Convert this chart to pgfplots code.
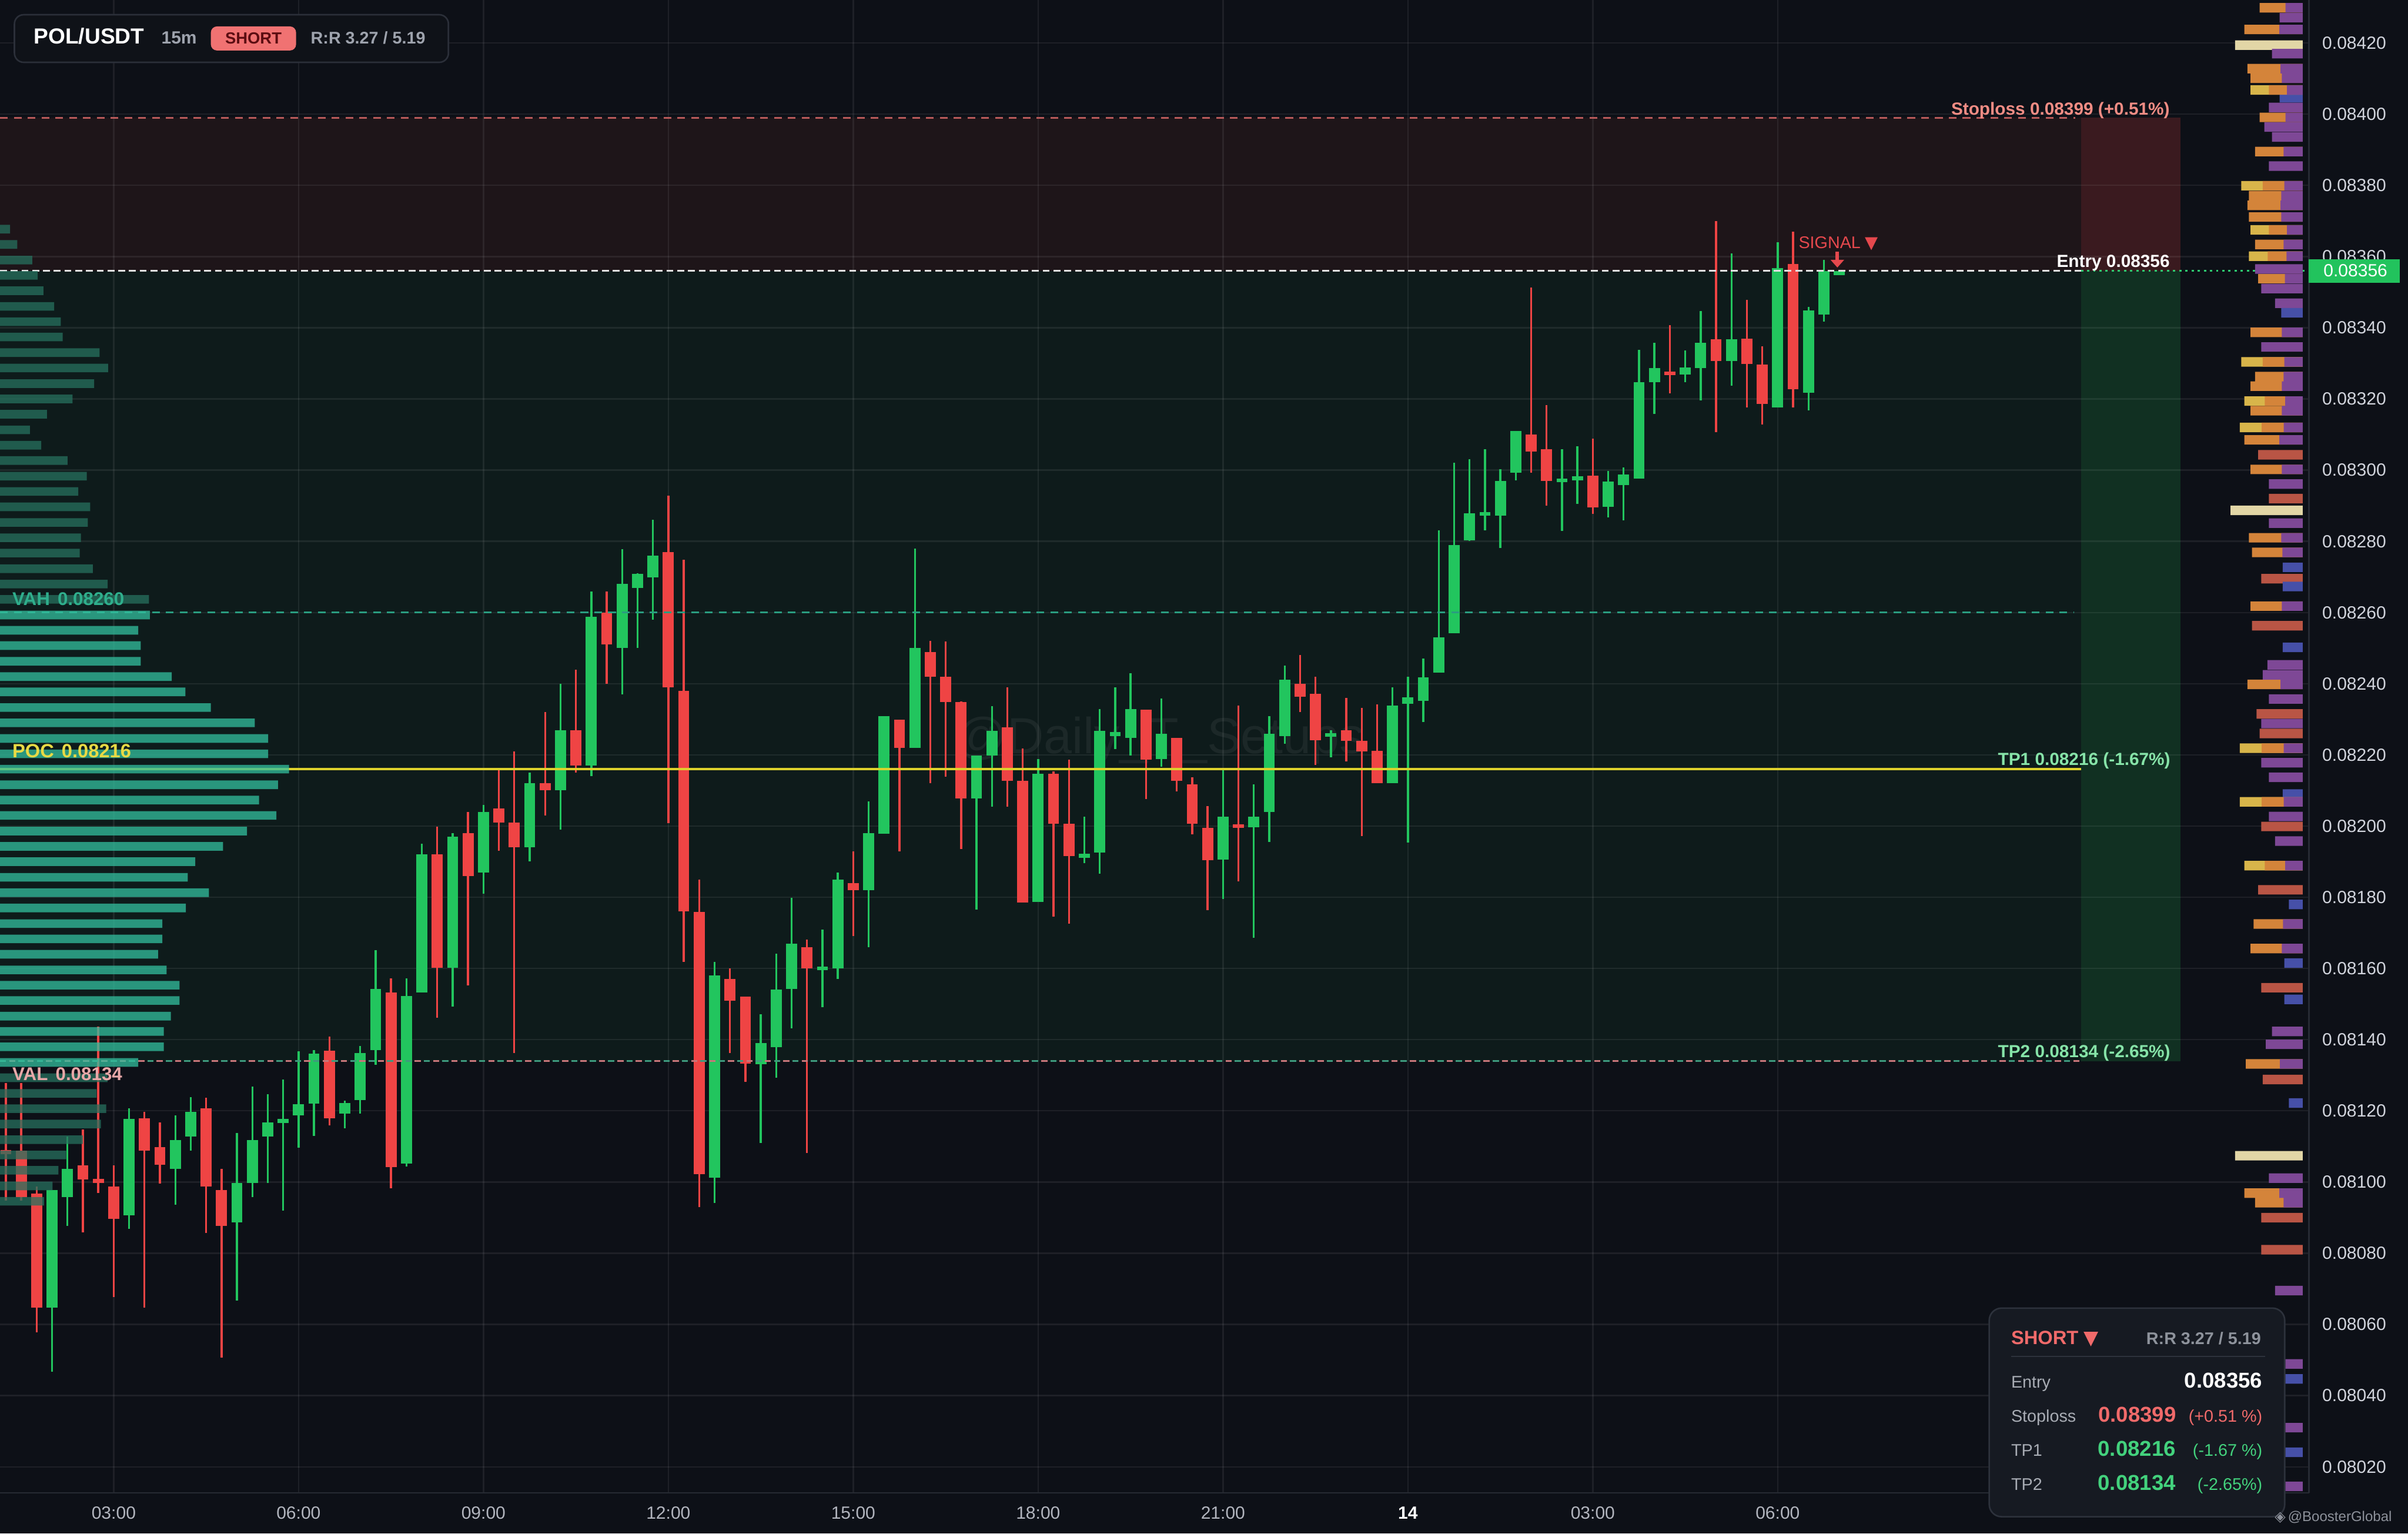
\documentclass[border=0pt]{standalone}
\usepackage{fontspec}
\setmainfont{Liberation Sans}
\newfontfamily\dejavu{DejaVu Sans}
\usepackage{pgfplots}
\pgfplotsset{compat=1.18}
\usepackage{pgfplotstable}
\usetikzlibrary{arrows.meta}

\definecolor{bg}{HTML}{0D1017}
\definecolor{zredD}{HTML}{1E1519}
\definecolor{zredB}{HTML}{3A1A1F}
\definecolor{zgrnD}{HTML}{0E1B1B}
\definecolor{zgrnB}{HTML}{113022}
\definecolor{cgreen}{HTML}{22C55E}
\definecolor{cred}{HTML}{EF4444}
\definecolor{tickx}{HTML}{B2B5BE}
\definecolor{ticky}{HTML}{D1D4DC}
\definecolor{slc}{HTML}{B85A5A}
\definecolor{sllab}{HTML}{F08C84}
\definecolor{entryline}{HTML}{E2E2E2}
\definecolor{entrydot}{HTML}{2ECC71}
\definecolor{vahc}{HTML}{2A9D80}
\definecolor{vahlab}{HTML}{2FAE8C}
\definecolor{pocc}{HTML}{DDD12C}
\definecolor{poclab}{HTML}{E8DA45}
\definecolor{valred}{HTML}{C8767A}
\definecolor{valgrn}{HTML}{3E9A7E}
\definecolor{vallab}{HTML}{E8A8A8}
\definecolor{tplab}{HTML}{86E3A8}
\definecolor{sigred}{HTML}{E5484D}
\definecolor{hdrbg}{HTML}{0F1218}
\definecolor{hdrborder}{HTML}{2B2F39}
\definecolor{badge}{HTML}{F07272}
\definecolor{badgetext}{HTML}{5C0D12}
\definecolor{graytxt}{HTML}{9EA3AD}
\definecolor{panelbg}{HTML}{161A22}
\definecolor{panelborder}{HTML}{2D323C}
\definecolor{panred}{HTML}{F06A6A}
\definecolor{pangreen}{HTML}{43D27D}
\definecolor{pangray}{HTML}{A8ACB4}
\definecolor{rrgray}{HTML}{8E939C}
\definecolor{pricegreen}{HTML}{22C35D}
\definecolor{profB}{HTML}{33C09F}
\definecolor{profD}{HTML}{27715E}
\definecolor{rporange}{HTML}{D4843A}
\definecolor{rpyellow}{HTML}{D8B54A}
\definecolor{rppale}{HTML}{E2D6A6}
\definecolor{rpred}{HTML}{B95545}
\definecolor{rppurple}{HTML}{7E4896}
\definecolor{rpblue}{HTML}{4650A8}
\definecolor{axisline}{HTML}{262A33}
\definecolor{wmgray}{HTML}{8D919A}

% candles: i open high low close (price x 1e5)
\pgfplotstableread{
i o h l c
0 8108.6 8127.9 8094.8 8108.2
1 8108.8 8127.9 8094.8 8095.9
2 8096.8 8098.8 8057.8 8064.8
5 8104.8 8114.8 8085.8 8100.8
6 8100.8 8143.8 8096.9 8100.0
7 8098.8 8104.8 8067.8 8089.8
9 8117.9 8119.8 8064.8 8108.8
10 8109.8 8116.9 8099.8 8104.8
13 8120.8 8123.8 8085.8 8098.8
14 8097.8 8103.8 8050.7 8087.8
21 8137.0 8141.0 8116.0 8118.0
25 8153.3 8157.3 8098.4 8104.3
28 8192.1 8200.1 8146.3 8160.3
30 8198.1 8204.1 8155.3 8186.1
32 8205.1 8216.1 8193.1 8201.1
33 8201.1 8221.1 8136.3 8194.1
35 8212.1 8232.1 8203.1 8210.1
37 8227.1 8244.1 8215.1 8217.1
39 8260.0 8266.0 8240.1 8251.0
43 8277.0 8293.0 8201.0 8239.0
44 8238.0 8275.0 8162.0 8176.0
45 8176.0 8185.0 8093.0 8102.3
47 8157.1 8160.1 8136.3 8151.1
48 8152.1 8152.1 8128.3 8133.3
52 8166.1 8168.1 8108.2 8160.1
55 8184.0 8193.0 8169.1 8182.0
58 8230.0 8230.0 8193.0 8222.0
60 8249.0 8252.0 8212.0 8242.0
61 8242.0 8252.0 8214.0 8235.0
62 8235.0 8235.0 8193.6 8207.8
65 8227.9 8239.0 8205.6 8212.8
66 8212.8 8221.8 8178.7 8178.7
68 8214.8 8215.4 8174.6 8200.7
69 8200.7 8218.8 8172.6 8191.7
74 8232.9 8232.9 8207.8 8218.8
76 8224.8 8224.8 8209.8 8212.8
77 8211.8 8213.8 8197.7 8200.7
78 8199.7 8205.8 8176.6 8190.6
80 8200.7 8233.9 8184.6 8199.7
84 8240.1 8248.1 8232.1 8236.4
85 8237.1 8242.0 8217.2 8224.1
87 8227.0 8236.1 8218.3 8224.1
88 8224.1 8233.2 8197.2 8221.2
89 8221.2 8234.3 8212.2 8212.2
99 8310.1 8351.3 8299.4 8305.3
100 8306.0 8318.3 8290.1 8297.0
103 8298.7 8308.9 8287.8 8289.7
108 8327.8 8340.8 8321.7 8326.8
111 8336.9 8370.0 8310.7 8330.8
113 8336.9 8347.9 8317.7 8329.8
114 8329.8 8334.9 8312.8 8318.7
116 8357.9 8367.0 8317.7 8322.7
}\redtab

\pgfplotstableread{
i o h l c
3 8064.8 8097.8 8046.9 8097.8
4 8095.9 8112.9 8087.8 8103.8
8 8090.8 8120.8 8086.9 8117.9
11 8103.8 8118.8 8093.8 8111.9
12 8112.9 8123.8 8108.8 8119.8
15 8088.8 8113.8 8066.8 8099.8
16 8099.8 8126.8 8095.9 8111.9
17 8112.9 8124.8 8099.8 8116.9
18 8116.9 8128.8 8091.9 8117.8
19 8118.8 8136.8 8109.8 8121.8
20 8122.0 8137.0 8113.0 8136.0
22 8119.3 8123.0 8115.3 8122.3
23 8123.0 8138.3 8119.3 8136.3
24 8137.1 8165.3 8133.1 8154.3
26 8105.3 8157.3 8104.3 8152.3
27 8153.3 8195.1 8153.3 8192.1
29 8160.3 8198.1 8149.3 8197.1
31 8187.1 8206.1 8181.1 8204.1
34 8194.1 8215.0 8190.1 8212.1
36 8210.1 8240.1 8199.1 8227.1
38 8217.1 8266.0 8214.1 8259.0
40 8250.0 8278.0 8237.1 8268.0
41 8267.0 8271.0 8250.0 8271.0
42 8270.0 8286.0 8258.0 8276.0
46 8101.2 8162.0 8094.3 8158.1
49 8133.3 8147.2 8111.1 8139.2
50 8138.1 8164.1 8129.3 8154.2
51 8154.2 8180.0 8143.2 8167.0
53 8159.8 8171.0 8149.1 8160.3
54 8160.1 8187.0 8157.1 8185.0
56 8182.0 8207.0 8166.1 8198.0
57 8198.0 8231.0 8198.0 8231.0
59 8222.0 8278.0 8222.0 8250.0
63 8207.8 8219.9 8176.6 8219.9
64 8219.9 8233.9 8205.6 8226.9
67 8178.7 8218.8 8178.7 8214.8
70 8191.5 8202.7 8189.6 8191.9
71 8192.7 8232.9 8186.6 8226.9
72 8225.7 8239.0 8221.8 8226.1
73 8224.9 8242.9 8219.9 8232.9
75 8218.8 8236.0 8216.8 8225.9
79 8190.6 8215.8 8179.7 8202.7
81 8199.7 8211.8 8168.6 8202.7
82 8204.0 8230.9 8195.6 8226.0
83 8225.2 8245.2 8223.1 8241.2
86 8225.5 8227.0 8219.4 8225.9
90 8212.2 8239.0 8212.2 8234.0
91 8234.3 8242.0 8195.4 8236.1
92 8235.3 8247.2 8229.3 8242.0
93 8243.3 8283.2 8243.3 8253.2
94 8254.3 8302.1 8254.3 8279.1
95 8280.3 8303.2 8280.3 8288.0
96 8287.5 8306.1 8283.2 8288.0
97 8287.2 8300.2 8278.2 8297.0
98 8299.4 8311.1 8297.2 8311.1
101 8296.8 8305.8 8283.0 8297.7
102 8297.6 8306.8 8290.7 8298.0
104 8289.7 8299.8 8286.8 8296.8
105 8295.8 8300.8 8286.0 8298.8
106 8297.7 8333.8 8297.7 8324.8
107 8324.8 8335.9 8315.8 8328.8
109 8326.8 8333.8 8324.8 8328.8
110 8328.8 8344.9 8319.8 8335.8
112 8330.8 8361.0 8323.8 8336.9
115 8317.7 8364.0 8317.7 8356.9
117 8321.8 8345.9 8316.8 8344.9
118 8343.8 8359.0 8341.8 8355.9
119 8355.0 8356.0 8355.0 8356.0
}\greentab

\tikzset{lab/.style={inner sep=0pt, text height=0.72em, text depth=0pt}}
\pgfplotsset{mainax/.style={at={(0pt,26.4pt)}, anchor=south west, width=1503.5pt, height=972pt,
  scale only axis, xmin=-0.3787, xmax=149.48, ymin=8012.67, ymax=8432.08}}
\pgfplotsset{pxax/.style={at={(0pt,26.4pt)}, anchor=south west, width=1503.5pt, height=972pt,
  scale only axis, ymin=8012.67, ymax=8432.08, axis lines=none}}
\pgfplotsset{candle/.style={forget plot, draw=none, mark=none, mark size=0pt,
  error bars/.cd, y dir=both, y explicit, error mark=none}}

\begin{document}
\begin{tikzpicture}[x=1pt,y=1pt]
\path[use as bounding box, fill=bg] (0,0) rectangle (1568,998.4);

% ---- zones
\begin{axis}[mainax, axis lines=none]
\addplot[fill=zredD, draw=none] coordinates {(-0.3787,8356) (134.68,8356) (134.68,8399) (-0.3787,8399)} --cycle;
\addplot[fill=zredB, draw=none] coordinates {(134.68,8356) (141.15,8356) (141.15,8399) (134.68,8399)} --cycle;
\addplot[fill=zgrnD, draw=none] coordinates {(-0.3787,8134) (134.68,8134) (134.68,8356) (-0.3787,8356)} --cycle;
\addplot[fill=zgrnB, draw=none] coordinates {(134.68,8134) (141.15,8134) (141.15,8356) (134.68,8356)} --cycle;
\end{axis}

\node[text=white, opacity=0.06, font=\fontsize{33}{38}\selectfont] at (755.5,516.4) {@Daily\_T\_Setups};

% ---- main axis: grid, ticks, candles, levels
\begin{axis}[mainax,
  axis line style={draw=none},
  major tick length=0pt,
  xtick={7,19,31,43,55,67,79,91,103,115},
  xticklabels={03:00,06:00,09:00,12:00,15:00,18:00,21:00,{\textbf{\textcolor{white}{14}}},03:00,06:00},
  ytick={8020,8040,...,8420},
  yticklabels={0.08020,0.08040,0.08060,0.08080,0.08100,0.08120,0.08140,0.08160,0.08180,0.08200,0.08220,0.08240,0.08260,0.08280,0.08300,0.08320,0.08340,0.08360,0.08380,0.08400,0.08420},
  yticklabel pos=right,
  xmajorgrids, ymajorgrids,
  major grid style={draw=white, opacity=0.07, line width=0.9pt},
  xticklabel style={font=\fontsize{11.5}{13}\selectfont, text=tickx, anchor=center, yshift=-13pt},
  yticklabel style={font=\fontsize{11.5}{13}\selectfont, text=ticky, anchor=west, inner sep=0pt, xshift=8.5pt},
]
% wicks
\addplot[candle, error bar style={draw=cgreen, line width=1.3pt}]
  table[x=i, y expr={(\thisrow{h}+\thisrow{l})/2}, y error expr={(\thisrow{h}-\thisrow{l})/2}] {\greentab};
\addplot[candle, error bar style={draw=cred, line width=1.3pt}]
  table[x=i, y expr={(\thisrow{h}+\thisrow{l})/2}, y error expr={(\thisrow{h}-\thisrow{l})/2}] {\redtab};
% bodies
\addplot[candle, error bar style={draw=cgreen, line width=7.2pt}]
  table[x=i, y expr={(\thisrow{o}+\thisrow{c})/2}, y error expr={max(abs(\thisrow{c}-\thisrow{o})/2,0.55)}] {\greentab};
\addplot[candle, error bar style={draw=cred, line width=7.2pt}]
  table[x=i, y expr={(\thisrow{o}+\thisrow{c})/2}, y error expr={max(abs(\thisrow{c}-\thisrow{o})/2,0.55)}] {\redtab};
% level lines
\addplot[slc, line width=1.1pt, dash pattern=on 5pt off 4pt] coordinates {(-0.3787,8399) (134.3,8399)};
\addplot[entryline, line width=1.2pt, dash pattern=on 4.5pt off 2.5pt] coordinates {(-0.3787,8356) (134.68,8356)};
\addplot[entrydot, line width=1pt, dash pattern=on 1.5pt off 2.5pt] coordinates {(134.68,8356) (149.48,8356)};
\addplot[vahc, line width=1pt, dash pattern=on 5pt off 4pt] coordinates {(-0.3787,8260) (134.2,8260)};
\addplot[pocc, line width=1.8pt] coordinates {(-0.3787,8216) (134.68,8216)};
\addplot[valgrn, line width=1.1pt, dash pattern=on 4pt off 8pt] coordinates {(-0.3787,8134) (134.68,8134)};
\addplot[valred, line width=1.1pt, dash pattern=on 4pt off 8pt, dash phase=6pt] coordinates {(-0.3787,8134) (134.68,8134)};
\end{axis}

% ---- left volume profile
\begin{axis}[pxax, xmin=0, xmax=1503.5, xbar, bar width=5.6pt]
\addplot[draw=none, fill=profD, fill opacity=0.75, bar shift=0pt] coordinates {
(6.6,8367.7) (11.2,8363.4) (21,8359.0) (24.5,8354.7) (28.3,8350.4) (35.3,8346.0) (39.6,8341.7) (40.8,8337.4)
(64.8,8333.0) (70.4,8328.7) (61.3,8324.3) (47.2,8320.0) (30.6,8315.7) (19.5,8311.3) (26.8,8307.0) (44,8302.7)
(56.5,8298.3) (51,8294.0) (58.7,8289.7) (57.2,8285.3) (52.7,8281.0) (51.9,8276.7) (60.4,8272.3) (70.1,8268.0) (97,8263.7)
(70,8129.3) (62.9,8124.9) (69.1,8120.6) (65.7,8116.3) (54,8111.9) (43.1,8107.6) (38,8103.3) (34.2,8098.9) (28.7,8094.6)};
\addplot[draw=none, fill=profB, fill opacity=0.75, bar shift=0pt] coordinates {
(97.6,8259.3) (90,8255.0) (91.6,8250.7) (91.6,8246.3) (111.8,8242.0) (120.7,8237.7) (137.3,8233.3) (165.9,8229.0)
(174.6,8224.6) (174.6,8220.3) (188.2,8216.0) (181,8211.6) (168.7,8207.3) (180,8203.0) (160.8,8198.6) (145.2,8194.3)
(127.1,8190.0) (122.3,8185.6) (136,8181.3) (121,8177.0) (105.7,8172.6) (105.7,8168.3) (102.9,8164.0) (108.5,8159.6)
(116.9,8155.3) (116.9,8151.0) (111.3,8146.6) (106.7,8142.3) (106.7,8138.0) (90,8133.6)};
\end{axis}

% ---- right volume profile
\begin{axis}[pxax, x dir=reverse, xmin=-4.1, xmax=1499.4, xbar, bar width=6.2pt]
\addplot[draw=none, fill=rporange, bar shift=0pt] coordinates {
(28,8429.9) (38,8423.8) (36,8412.8) (34,8410.1) (28,8399.1) (31,8389.5) (35,8377.1) (36,8374.4) (35,8371.1)
(31,8363.4) (29,8353.8) (34,8338.7) (31,8326.3) (34,8323.6) (34,8316.7) (38,8308.5) (34,8300.2) (35,8281.0)
(33,8276.9) (34,8261.8) (36,8239.8) (32,8172.5) (34,8165.6) (37,8133.2) (38,8096.9) (31,8094.2)};
\addplot[draw=none, fill=rpyellow, bar shift=0pt] coordinates {
(34,8406.8) (40,8379.9) (34,8367.5) (35,8360.1) (40,8330.4) (38,8319.4) (41,8312.0) (41,8221.9) (41,8206.8) (38,8188.9)};
\addplot[draw=none, fill=rppale, bar shift=0pt] coordinates {(44,8419.4) (47,8288.7) (44,8107.4)};
\addplot[draw=none, fill=rpred, bar shift=0pt] coordinates {
(29,8304.3) (22,8292.0) (27,8269.5) (33,8256.3) (30,8231.5) (28,8226.0) (27,8199.9) (29,8182.1) (27,8154.6)
(26,8128.8) (27,8090.0) (27,8081.0)};
\addplot[draw=none, fill=rppurple, bar shift=0pt] coordinates {
(15,8427.1) (20,8417.0) (22,8401.9) (25,8396.4) (20,8393.6) (22,8385.4) (31,8356.5) (27,8351.0) (18,8346.9)
(27,8334.6) (22,8296.1) (22,8285.1) (23,8245.3) (26,8242.5) (22,8235.7) (27,8228.8) (27,8217.8) (22,8213.7)
(22,8202.7) (18,8195.8) (20,8142.3) (24,8138.7) (22,8101.1) (18,8069.5) (12,8048.9) (12,8031.0) (12,8014.5)};
\addplot[draw=none, fill=rpblue, bar shift=0pt] coordinates {
(15,8404.6) (14,8344.2) (13,8272.7) (13,8267.3) (13,8250.2) (13,8209.0) (9,8178.0) (12,8161.5) (12,8151.3)
(9,8122.2) (12,8044.7) (12,8024.1)};
% inner segments
\addplot[draw=none, fill=rporange, bar shift=0pt] coordinates {
(22,8406.8) (26,8379.9) (22,8367.5) (22.8,8360.1) (26,8330.4) (24.7,8319.4) (26.7,8312.0) (26.7,8221.9) (26.7,8206.8) (24.7,8188.9)};
\addplot[draw=none, fill=rppurple, bar shift=0pt] coordinates {
(11.2,8429.9) (15.2,8423.8) (14.4,8412.8) (13.6,8410.1) (11.2,8399.1) (12.4,8389.5) (14,8377.1) (14.4,8374.4) (14,8371.1)
(12.4,8363.4) (11.6,8353.8) (13.6,8338.7) (12.4,8326.3) (13.6,8323.6) (13.6,8316.7) (15.2,8308.5) (13.6,8300.2) (14,8281.0)
(13.2,8276.9) (13.6,8261.8) (14.4,8239.8) (12.8,8172.5) (13.6,8165.6) (14.8,8133.2) (15.2,8096.9) (12.4,8094.2)
(10.2,8406.8) (12,8379.9) (10.2,8367.5) (10.5,8360.1) (12,8330.4) (11.4,8319.4) (12.3,8312.0) (12.3,8221.9) (12.3,8206.8) (11.4,8188.9)};
\end{axis}

% ---- frame lines
\draw[axisline, line width=1pt] (1503.5,26.4) -- (1503.5,998.4);
\draw[axisline, line width=1pt] (0,26.4) -- (1503.5,26.4);

% ---- level labels
\node[lab, anchor=east, font=\fontsize{11.4}{13}\selectfont\bfseries, text=sllab] at (1413,927) {Stoploss 0.08399 (+0.51\%)};
\node[lab, anchor=east, font=\fontsize{11.4}{13}\selectfont\bfseries, text=white] at (1413,828) {Entry 0.08356};
\node[lab, anchor=east, font=\fontsize{11.4}{13}\selectfont\bfseries, text=tplab] at (1413.4,503.6) {TP1 0.08216 (-1.67\%)};
\node[lab, anchor=east, font=\fontsize{11.4}{13}\selectfont\bfseries, text=tplab] at (1413.4,313.5) {TP2 0.08134 (-2.65\%)};
\node[lab, anchor=west, font=\fontsize{12}{14}\selectfont\bfseries, text=vahlab] at (7.9,607.8) {VAH\hspace{5pt}0.08260};
\node[lab, anchor=west, font=\fontsize{12.5}{14}\selectfont\bfseries, text=poclab] at (7.9,508.6) {POC\hspace{5pt}0.08216};
\node[lab, anchor=west, font=\fontsize{12}{14}\selectfont\bfseries, text=vallab] at (7.9,298.7) {VAL\hspace{5pt}0.08134};

% ---- signal
\node[lab, anchor=west, font=\fontsize{11}{13}\selectfont, text=sigred] at (1171,840.3) {SIGNAL {\dejavu ▼}};
\draw[sigred, line width=2.4pt, -{Triangle[length=5pt,width=8.5pt]}] (1196.4,834.5) -- (1196.4,824.2);

% ---- current price tag
\fill[pricegreen] (1503.4,829.7) rectangle (1562.5,814.3);
\node[lab, anchor=west, font=\fontsize{11.5}{13}\selectfont, text=white] at (1512.8,822.0) {0.08356};

% ---- header
\draw[rounded corners=6pt, fill=hdrbg, draw=hdrborder, line width=1pt] (9.4,988.8) rectangle (292,957.8);
\node[lab, anchor=west, font=\fontsize{14.2}{16}\selectfont\bfseries, text=white] at (21.9,973.3) {POL/USDT};
\node[lab, anchor=west, font=\fontsize{11.5}{13}\selectfont\bfseries, text=graytxt] at (104.9,973.3) {15m};
\fill[badge, rounded corners=4pt] (137.3,981.2) rectangle (192.8,965.5);
\node[lab, font=\fontsize{10.5}{12}\selectfont\bfseries, text=badgetext] at (165,973.3) {SHORT};
\node[lab, anchor=west, font=\fontsize{11}{13}\selectfont\bfseries, text=graytxt] at (202.2,973.3) {R:R 3.27 / 5.19};

% ---- summary panel
\draw[rounded corners=8pt, fill=panelbg, draw=panelborder, line width=1pt] (1295.3,146.7) rectangle (1487.7,10.9);
\node[lab, anchor=west, font=\fontsize{12.5}{14}\selectfont\bfseries, text=panred] at (1309.4,126.8) {SHORT {\dejavu\bfseries ▼}};
\node[lab, anchor=east, font=\fontsize{11}{13}\selectfont\bfseries, text=rrgray] at (1472.4,126.8) {R:R 3.27 / 5.19};
\draw[panelborder, line width=1pt] (1309.4,115.3) -- (1475,115.3);
\node[lab, anchor=west, font=\fontsize{11}{13}\selectfont, text=pangray] at (1309.4,98.2) {Entry};
\node[lab, anchor=west, font=\fontsize{11}{13}\selectfont, text=pangray] at (1309.4,76.0) {Stoploss};
\node[lab, anchor=west, font=\fontsize{11}{13}\selectfont, text=pangray] at (1309.4,53.8) {TP1};
\node[lab, anchor=west, font=\fontsize{11}{13}\selectfont, text=pangray] at (1309.4,31.6) {TP2};
\node[lab, anchor=east, font=\fontsize{14}{16}\selectfont\bfseries, text=white] at (1473.3,98.2) {0.08356};
\node[lab, anchor=east, font=\fontsize{14}{16}\selectfont\bfseries, text=panred] at (1417.2,76.0) {0.08399};
\node[lab, anchor=east, font=\fontsize{11}{13}\selectfont, text=panred] at (1473.3,76.0) {(+0.51 \%)};
\node[lab, anchor=east, font=\fontsize{14}{16}\selectfont\bfseries, text=pangreen] at (1416.9,53.8) {0.08216};
\node[lab, anchor=east, font=\fontsize{11}{13}\selectfont, text=pangreen] at (1473.3,53.8) {(-1.67 \%)};
\node[lab, anchor=east, font=\fontsize{14}{16}\selectfont\bfseries, text=pangreen] at (1416.9,31.6) {0.08134};
\node[lab, anchor=east, font=\fontsize{11}{13}\selectfont, text=pangreen] at (1473.3,31.6) {(-2.65\%)};

% ---- watermark
\node[lab, anchor=west, font=\fontsize{9.2}{11}\selectfont, text=wmgray] at (1481,11.4) {{\dejavu ◈}\,@BoosterGlobal};
\end{tikzpicture}
\end{document}
